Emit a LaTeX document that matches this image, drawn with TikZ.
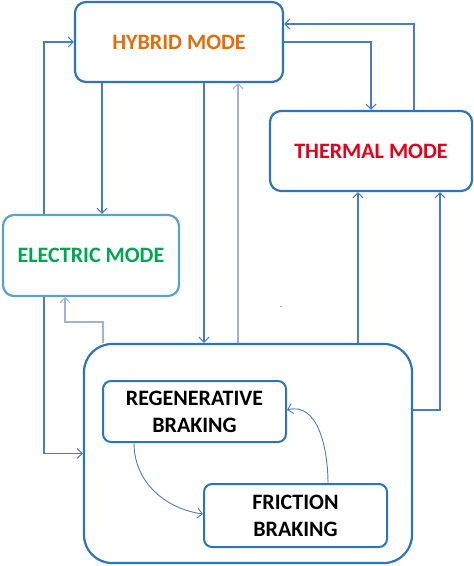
\documentclass[tikz,border=0pt]{standalone}
\usepackage{fontspec}
\setmainfont{Carlito}
\usetikzlibrary{arrows.meta}
\definecolor{boxblue}{HTML}{2E75B6}
\definecolor{eleblue}{HTML}{5BA3C4}
\definecolor{linkblue}{HTML}{4A7EBB}
\definecolor{lightlink}{HTML}{9FB3DA}
\definecolor{hybcol}{HTML}{E46C0A}
\definecolor{thcol}{HTML}{E3001B}
\definecolor{elecol}{HTML}{00A550}
\begin{document}
\begin{tikzpicture}[x=1pt,y=-1pt,
  modebox/.style={draw=boxblue, line width=2.2pt, rounded corners=11pt, align=center, font=\bfseries\fontsize{22}{26}\selectfont},
  brakebox/.style={draw=boxblue, line width=2pt, rounded corners=8pt, align=center, font=\bfseries\fontsize{22}{27}\selectfont},
  conn/.style={draw=linkblue, line width=1.1pt, -{Straight Barb[length=5pt,width=10pt]}},
  lconn/.style={conn, draw=lightlink}]
\useasboundingbox (0,0) rectangle (474,566);
\node[modebox, minimum width=208, minimum height=80, text=hybcol] (hyb) at (179,42) {HYBRID MODE};
\node[modebox, minimum width=202, minimum height=80, text=thcol] (th) at (371,151) {THERMAL MODE};
\node[modebox, draw=eleblue, minimum width=176, minimum height=81, text=elecol] (ele) at (91,255.5) {ELECTRIC MODE};
\node[draw=boxblue, line width=2.2pt, rounded corners=28pt, minimum width=328, minimum height=219] (big) at (248,453.5) {};
\node[brakebox, minimum width=183, minimum height=61] (reg) at (194.5,411.5) {REGENERATIVE\\BRAKING};
\node[brakebox, minimum width=183, minimum height=63] (fr) at (295.5,515.5) {FRICTION\\BRAKING};
\coordinate (x44) at (44,0);
\coordinate (x65) at (65,0);
\coordinate (x102) at (102,0);
\coordinate (x103) at (103,0);
\coordinate (x134) at (134,0);
\coordinate (x204) at (204,0);
\coordinate (x238) at (238,0);
\coordinate (x328) at (328,0);
\coordinate (x358) at (358,0);
\coordinate (x414) at (414,0);
\coordinate (x440) at (440,0);
\coordinate (y24) at (0,24);
\coordinate (y322) at (0,322);
\coordinate (y410) at (0,410);
\coordinate (y514) at (0,514);
\draw[conn] (ele.north -| x44) |- (hyb.west);
\draw[conn] (ele.south -| x44) |- (big.west);
\draw[conn] (hyb.south -| x102) -- (ele.north -| x102);
\draw[conn] (hyb.south -| x204) -- (big.north -| x204);
\draw[lconn] (big.north -| x238) -- (hyb.south -| x238);
\draw[conn] (big.north -| x358) -- (th.south -| x358);
\draw[conn] (big.east |- y410) -| (th.south -| x440);
\draw[conn] (th.north -| x414) |- (hyb.east |- y24);
\draw[conn] (hyb.east) -| (th.north);
\draw[lconn] (big.north -| x103) |- (x65 |- y322) -- (ele.south -| x65);
\draw[conn, line width=0.9pt] (reg.south -| x134) to[out=-90, in=172] (fr.west |- y514);
\draw[conn, line width=0.9pt] (fr.north -| x328) to[out=90, in=15] (reg.east |- y410);
\fill[black!70] (281,306.5) circle (0.7pt);
\end{tikzpicture}
\end{document}
